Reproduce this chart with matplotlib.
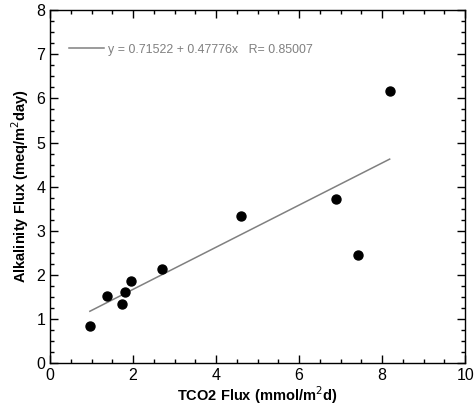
import numpy as np
import matplotlib.pyplot as plt
from matplotlib.ticker import MultipleLocator

plt.rcParams['font.family'] = ['Liberation Sans', 'DejaVu Sans']

# data
tco2_flux = [0.96, 1.37, 1.73, 1.80, 1.94, 2.70, 4.61, 6.88, 7.41, 8.18]
alk_flux = [0.83, 1.53, 1.34, 1.60, 1.87, 2.14, 3.34, 3.71, 2.46, 6.17]
intercept = 0.71522
slope = 0.47776
r_value = 0.85007

fig = plt.figure(figsize=(4.74, 4.07), dpi=100)
ax = fig.add_axes([0.1055, 0.108, 0.876, 0.867])

# fit line
xf = np.array([min(tco2_flux), max(tco2_flux)])
ax.plot(xf, intercept + slope * xf, color='#808080', lw=1.1,
        label='y = %.5f + %.5fx   R= %.5f' % (intercept, slope, r_value))
ax.scatter(tco2_flux, alk_flux, s=42, color='black', zorder=3)

ax.set_xlim(0, 10)
ax.set_ylim(0, 8)
ax.xaxis.set_major_locator(MultipleLocator(2))
ax.xaxis.set_minor_locator(MultipleLocator(0.5))
ax.yaxis.set_major_locator(MultipleLocator(1))
ax.yaxis.set_minor_locator(MultipleLocator(0.25))
ax.tick_params(which='both', direction='in', top=True, right=True, labelsize=11.5, width=1)
ax.tick_params(which='major', length=6)
ax.tick_params(which='minor', length=3)
for s in ax.spines.values():
    s.set_linewidth(1)

ax.set_xlabel('TCO2 Flux (mmol/m$^2$d)', fontsize=10.5, fontweight='bold', labelpad=1)
ax.set_ylabel('Alkalinity Flux (meq/m$^2$day)', fontsize=10.5, fontweight='bold', labelpad=4)

leg = ax.legend(loc='upper left', frameon=False, fontsize=8.9, handlelength=2.8,
                handletextpad=0.3, bbox_to_anchor=(0.02, 0.937))
for t in leg.get_texts():
    t.set_color('#808080')

fig.savefig('out.png', dpi=100)
